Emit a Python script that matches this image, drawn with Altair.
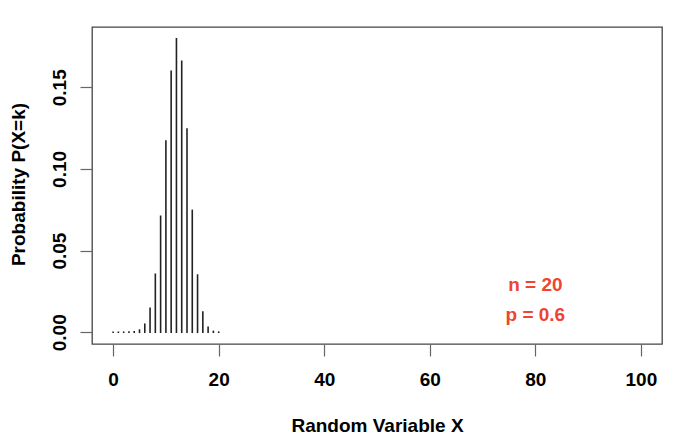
import altair as alt
import pandas as pd

k_values = list(range(21))
probabilities = [1.1e-8, 3.3e-7, 4.7e-6, 4.2e-5, 0.00027, 0.0013, 0.0049, 0.0146,
                 0.0355, 0.0710, 0.1171, 0.1597, 0.1797, 0.1659, 0.1244, 0.0746,
                 0.0350, 0.0123, 0.0031, 0.0005, 0.00004]
x_ticks = [0, 20, 40, 60, 80, 100]
y_ticks = [0.0, 0.05, 0.10, 0.15]
labels = ["n = 20", "p = 0.6"]
label_x = [80, 80]
label_y = [0.0292, 0.0108]

df = pd.DataFrame({"k": k_values, "p": probabilities})
lab = pd.DataFrame({"t": labels, "x": label_x, "y": label_y})

FONT = "Liberation Sans"
FS = 19

xscale = alt.Scale(domain=[-4, 104], nice=False, zero=False)
yscale = alt.Scale(domain=[-0.0072, 0.1869], nice=False, zero=False)

xaxis = alt.Axis(values=x_ticks, title="Random Variable X", grid=False, domain=False,
                 tickSize=12, tickColor="#666", tickWidth=1.2, labelFont=FONT,
                 labelFontSize=FS, labelFontWeight="bold", labelColor="#000",
                 labelPadding=14, titleFont=FONT, titleFontSize=FS,
                 titleFontWeight="bold", titleColor="#000", titleX=285, titleY=87,
                 titleBaseline="alphabetic", titleAlign="center", labelFlush=False)
yaxis = alt.Axis(values=y_ticks, format=".2f", title="Probability P(X=k)", grid=False,
                 domain=False, tickSize=12, tickColor="#666", tickWidth=1.2,
                 labelFont=FONT, labelFontSize=FS, labelFontWeight="bold",
                 labelColor="#000", labelAngle=270, labelAlign="center",
                 labelBaseline="bottom", labelPadding=11, labelFlush=False,
                 titleFont=FONT, titleFontSize=FS, titleFontWeight="bold",
                 titleColor="#000", titleAngle=270, titleX=-74, titleY=157,
                 titleBaseline="middle", titleAlign="center")

bars = alt.Chart(df).mark_rule(color="#222", strokeWidth=1.6, strokeCap="square").encode(
    x=alt.X("k:Q", scale=xscale, axis=xaxis),
    y=alt.Y("p:Q", scale=yscale, axis=yaxis),
    y2=alt.datum(0),
)

text = alt.Chart(lab).mark_text(color="#ee4433", fontSize=FS, fontWeight="bold",
                                font=FONT, baseline="middle", align="center").encode(
    x=alt.X("x:Q", scale=xscale),
    y=alt.Y("y:Q", scale=yscale),
    text="t:N",
)

chart = (bars + text).properties(
    width=570, height=317,
    autosize=alt.AutoSizeParams(type="none"),
    padding={"left": 84, "top": 19, "right": 8, "bottom": 92},
    background="white",
).configure_view(stroke="#444", strokeWidth=1.3)

chart.save("out.html", embed_options={"renderer": "svg", "actions": False})
